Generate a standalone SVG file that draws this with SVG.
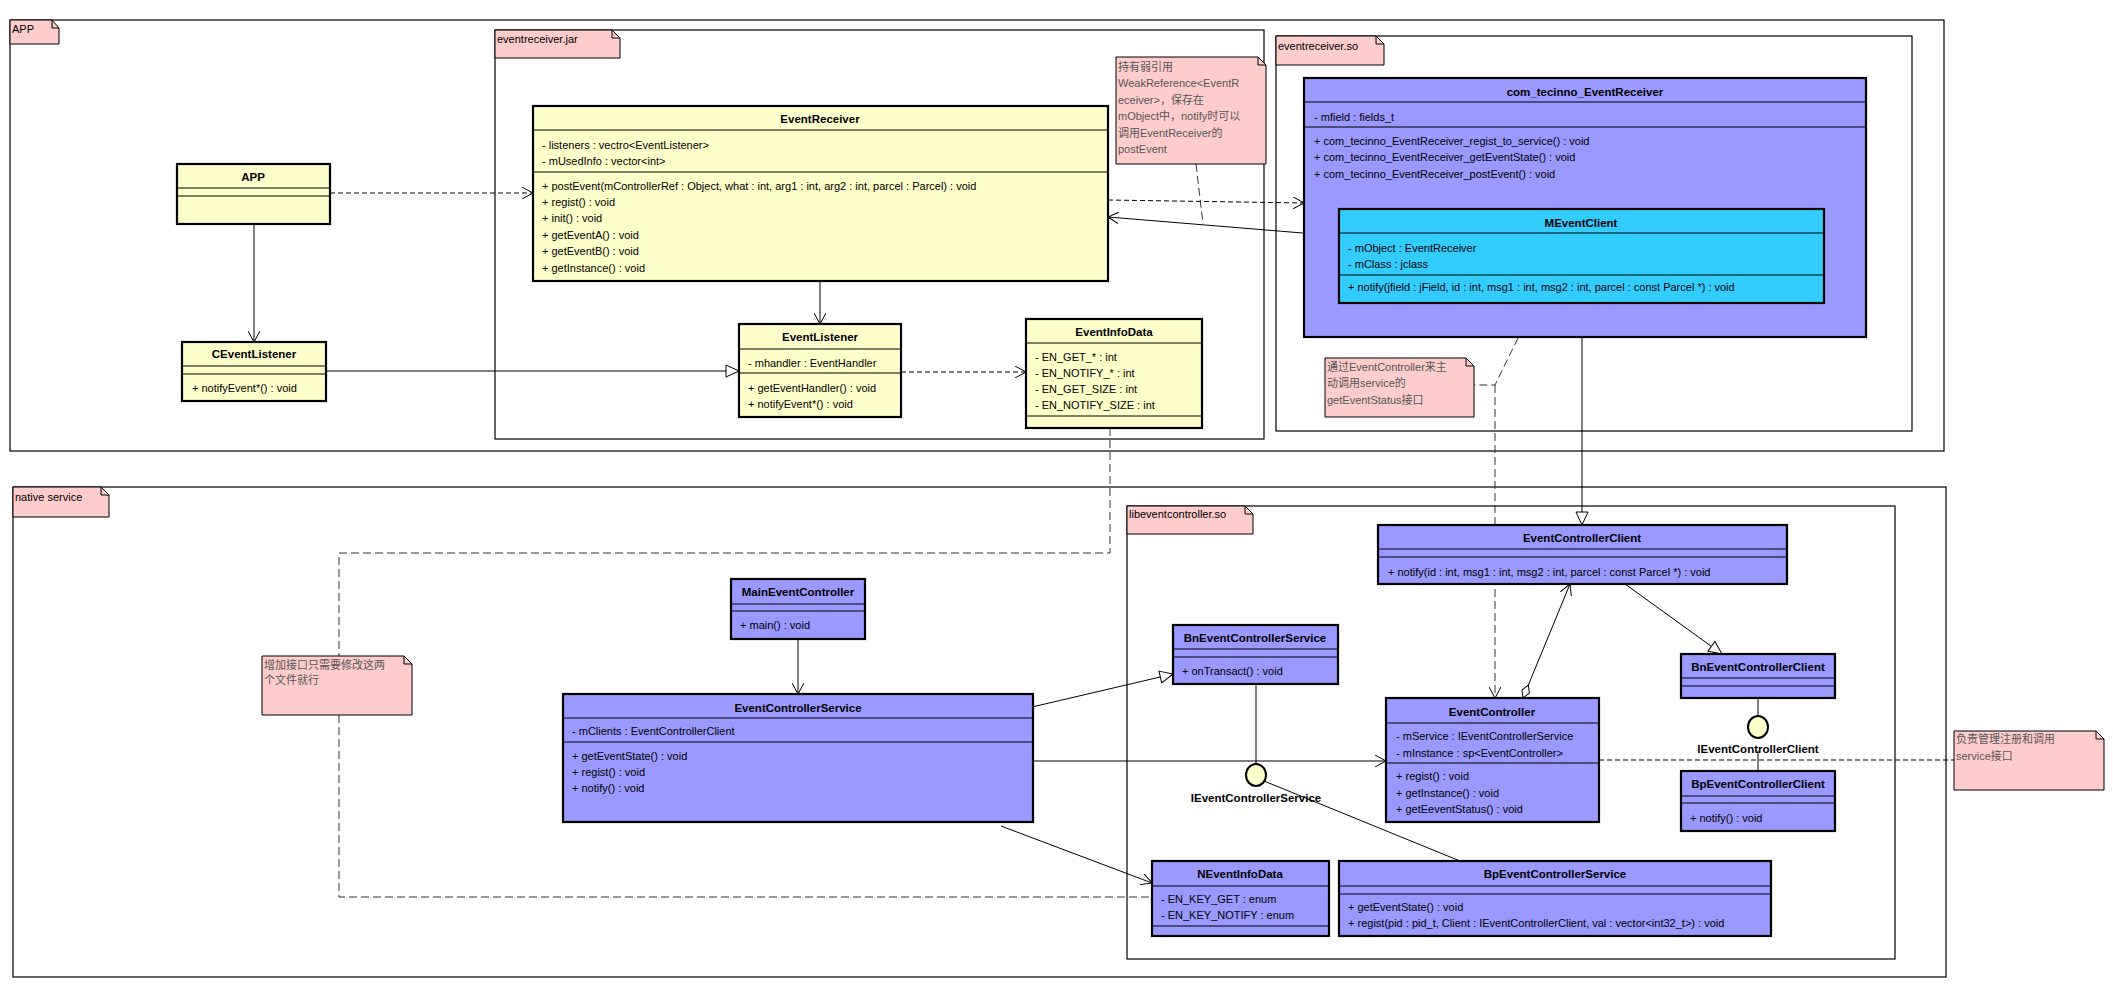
<svg xmlns="http://www.w3.org/2000/svg" width="2113" height="1000" viewBox="0 0 2113 1000">
<style>
text{font-family:"Liberation Sans","Noto Sans CJK SC",sans-serif;font-size:11px;fill:#000}
.h{font-weight:bold;text-anchor:middle;font-size:11.5px}
.c{text-anchor:middle}
.pk{fill:none;stroke:#000;stroke-width:1.2}
.tab{fill:#FFCCCC;stroke:#000;stroke-width:1}
.y{fill:#FFFFCC;stroke:#000;stroke-width:2.2}
.p{fill:#9999FF;stroke:#000;stroke-width:2.2}
.b{fill:#33CCFF;stroke:#000;stroke-width:2.2}
.s{stroke:#000;stroke-width:1.2}
.note{fill:#FFCCCC;stroke:#000;stroke-width:1}
.nt{fill:#555}
.l{fill:none;stroke:#000;stroke-width:1}
.d{fill:none;stroke:#000;stroke-width:1;stroke-dasharray:5,3}
.d2{fill:none;stroke:#333;stroke-width:1;stroke-dasharray:8,4}
.tri{fill:#fff;stroke:#000;stroke-width:1}
</style>
<defs>
<marker id="open" markerWidth="12" markerHeight="12" refX="11" refY="6" orient="auto" markerUnits="userSpaceOnUse"><path d="M0,0 L11,6 L0,12" fill="none" stroke="#000"/></marker>
<marker id="tri" markerWidth="16" markerHeight="14" refX="14" refY="7" orient="auto" markerUnits="userSpaceOnUse"><path d="M1,1 L14,7 L1,13 Z" fill="#fff" stroke="#000"/></marker>
<marker id="dia" markerWidth="18" markerHeight="10" refX="1" refY="5" orient="auto" markerUnits="userSpaceOnUse"><path d="M1,5 L8,1 L15,5 L8,9 Z" fill="#fff" stroke="#000"/></marker>
</defs>

<g id="pkg-app">
<rect class="pk" x="10" y="20" width="1934" height="431"/>
<path class="tab" d="M10,20 H52 L59,28 V44 H10 Z"/><path class="l" d="M52,20 V28 H59"/>
<text x="12" y="33">APP</text>
</g>
<g id="pkg-jar">
<rect class="pk" x="495" y="30" width="769" height="409"/>
<path class="tab" d="M495,30 H612 L620,38 V58 H495 Z"/><path class="l" d="M612,30 V38 H620"/>
<text x="497" y="43">eventreceiver.jar</text>
</g>
<g id="pkg-so">
<rect class="pk" x="1276" y="36" width="636" height="395"/>
<path class="tab" d="M1276,36 H1376 L1384,44 V65 H1276 Z"/><path class="l" d="M1376,36 V44 H1384"/>
<text x="1278" y="50">eventreceiver.so</text>
</g>
<g id="pkg-native">
<rect class="pk" x="13" y="487" width="1933" height="490"/>
<path class="tab" d="M13,487 H101 L109,495 V517 H13 Z"/><path class="l" d="M101,487 V495 H109"/>
<text x="15" y="501">native service</text>
</g>
<g id="pkg-lib">
<rect class="pk" x="1127" y="506" width="768" height="453"/>
<path class="tab" d="M1127,506 H1245 L1253,514 V534 H1127 Z"/><path class="l" d="M1245,506 V514 H1253"/>
<text x="1129" y="518">libeventcontroller.so</text>
</g>

<g id="connectors">
<path class="d" d="M330,193 H533" marker-end="url(#open)"/>
<path class="l" d="M254,224 V342" marker-end="url(#open)"/>
<path class="l" d="M820,281 V324" marker-end="url(#open)"/>
<path class="l" d="M326,371 H739" marker-end="url(#tri)"/>
<path class="d" d="M901,372 H1026" marker-end="url(#open)"/>
<path class="d" d="M1108,200 L1304,203" marker-end="url(#open)"/>
<path class="l" d="M1339,236 L1108,217" marker-end="url(#open)"/>
<path class="d2" d="M1196,164 L1203,224"/>
<path class="d2" d="M1518,338 L1495,385 H1474"/>
<path class="d2" d="M1495,385 V698" marker-end="url(#open)"/>
<path class="l" d="M1582,303 V525" marker-end="url(#tri)"/>
<path class="d2" d="M1110,428 V553 H339 V656 M339,715 V897 H1152"/>
<path class="l" d="M798,639 V694" marker-end="url(#open)"/>
<path class="l" d="M1032,707 L1173,674" marker-end="url(#tri)"/>
<path class="l" d="M1033,761 H1386" marker-end="url(#open)"/>
<path class="l" d="M1001,826 L1152,883" marker-end="url(#open)"/>
<path class="d" d="M1599,760 H1954"/>
<path class="l" d="M1523,698 L1570,584" marker-start="url(#dia)" marker-end="url(#open)"/>
<path class="l" d="M1625,584 L1722,654" marker-end="url(#tri)"/>
<path class="l" d="M1256,684 V765"/>
<path class="l" d="M1264,781 L1460,861"/>
<path class="l" d="M1758,698 V717 M1758,751 V771"/>
</g>

<g id="APP">
<rect class="y" x="177" y="164" width="153" height="60"/>
<line class="s" x1="177" y1="188" x2="330" y2="188"/><line class="s" x1="177" y1="196" x2="330" y2="196"/>
<text class="h" x="253" y="181">APP</text>
</g>
<g id="CEventListener">
<rect class="y" x="182" y="342" width="144" height="59"/>
<line class="s" x1="182" y1="366" x2="326" y2="366"/><line class="s" x1="182" y1="374" x2="326" y2="374"/>
<text class="h" x="254" y="358">CEventListener</text>
<text x="192" y="392">+ notifyEvent*() : void</text>
</g>
<g id="EventReceiver">
<rect class="y" x="533" y="106" width="575" height="175"/>
<line class="s" x1="533" y1="130" x2="1108" y2="130"/><line class="s" x1="533" y1="172" x2="1108" y2="172"/>
<text class="h" x="820" y="123">EventReceiver</text>
<text x="542" y="149">- listeners : vectro&lt;EventListener&gt;</text>
<text x="542" y="165">- mUsedInfo : vector&lt;int&gt;</text>
<text x="542" y="190">+ postEvent(mControllerRef : Object, what : int, arg1 : int, arg2 : int, parcel : Parcel) : void</text>
<text x="542" y="206">+ regist() : void</text>
<text x="542" y="222">+ init() : void</text>
<text x="542" y="239">+ getEventA() : void</text>
<text x="542" y="255">+ getEventB() : void</text>
<text x="542" y="272">+ getInstance() : void</text>
</g>
<g id="EventListener">
<rect class="y" x="739" y="324" width="162" height="93"/>
<line class="s" x1="739" y1="349" x2="901" y2="349"/><line class="s" x1="739" y1="373" x2="901" y2="373"/>
<text class="h" x="820" y="341">EventListener</text>
<text x="748" y="367">- mhandler : EventHandler</text>
<text x="748" y="392">+ getEventHandler() : void</text>
<text x="748" y="408">+ notifyEvent*() : void</text>
</g>
<g id="EventInfoData">
<rect class="y" x="1026" y="319" width="176" height="109"/>
<line class="s" x1="1026" y1="343" x2="1202" y2="343"/><line class="s" x1="1026" y1="416" x2="1202" y2="416"/>
<text class="h" x="1114" y="336">EventInfoData</text>
<text x="1035" y="361">- EN_GET_* : int</text>
<text x="1035" y="377">- EN_NOTIFY_* : int</text>
<text x="1035" y="393">- EN_GET_SIZE : int</text>
<text x="1035" y="409">- EN_NOTIFY_SIZE : int</text>
</g>
<g id="note-weakref">
<path class="note" d="M1116,57 H1258 L1266,65 V164 H1116 Z"/><path class="l" d="M1258,57 V65 H1266"/>
<text class="nt" x="1118" y="71">持有弱引用</text>
<text class="nt" x="1118" y="87">WeakReference&lt;EventR</text>
<text class="nt" x="1118" y="104">eceiver&gt;，保存在</text>
<text class="nt" x="1118" y="120">mObject中，notify时可以</text>
<text class="nt" x="1118" y="137">调用EventReceiver的</text>
<text class="nt" x="1118" y="153">postEvent</text>
</g>
<g id="com_tecinno_EventReceiver">
<rect class="p" x="1304" y="78" width="562" height="259"/>
<line class="s" x1="1304" y1="102" x2="1866" y2="102"/><line class="s" x1="1304" y1="127" x2="1866" y2="127"/>
<text class="h" x="1585" y="96">com_tecinno_EventReceiver</text>
<text x="1314" y="121">- mfield : fields_t</text>
<text x="1314" y="145">+ com_tecinno_EventReceiver_regist_to_service() : void</text>
<text x="1314" y="161">+ com_tecinno_EventReceiver_getEventState() : void</text>
<text x="1314" y="178">+ com_tecinno_EventReceiver_postEvent() : void</text>
</g>
<g id="MEventClient">
<rect class="b" x="1339" y="209" width="485" height="94"/>
<line class="s" x1="1339" y1="233" x2="1824" y2="233"/><line class="s" x1="1339" y1="275" x2="1824" y2="275"/>
<text class="h" x="1581" y="227">MEventClient</text>
<text x="1348" y="252">- mObject : EventReceiver</text>
<text x="1348" y="268">- mClass : jclass</text>
<text x="1348" y="291">+ notify(jfield : jField, id : int, msg1 : int, msg2 : int, parcel : const Parcel *) : void</text>
</g>
<g id="note-controller">
<path class="note" d="M1325,358 H1466 L1474,366 V417 H1325 Z"/><path class="l" d="M1466,358 V366 H1474"/>
<text class="nt" x="1327" y="371">通过EventController来主</text>
<text class="nt" x="1327" y="387">动调用service的</text>
<text class="nt" x="1327" y="404">getEventStatus接口</text>
</g>
<g id="note-files">
<path class="note" d="M262,656 H404 L412,664 V715 H262 Z"/><path class="l" d="M404,656 V664 H412"/>
<text class="nt" x="264" y="669">增加接口只需要修改这两</text>
<text class="nt" x="264" y="684">个文件就行</text>
</g>
<g id="MainEventController">
<rect class="p" x="731" y="579" width="134" height="60"/>
<line class="s" x1="731" y1="604" x2="865" y2="604"/><line class="s" x1="731" y1="611" x2="865" y2="611"/>
<text class="h" x="798" y="596">MainEventController</text>
<text x="740" y="629">+ main() : void</text>
</g>
<g id="EventControllerService">
<rect class="p" x="563" y="694" width="470" height="128"/>
<line class="s" x1="563" y1="718" x2="1033" y2="718"/><line class="s" x1="563" y1="742" x2="1033" y2="742"/>
<text class="h" x="798" y="712">EventControllerService</text>
<text x="572" y="735">- mClients : EventControllerClient</text>
<text x="572" y="760">+ getEventState() : void</text>
<text x="572" y="776">+ regist() : void</text>
<text x="572" y="792">+ notify() : void</text>
</g>
<g id="EventControllerClient">
<rect class="p" x="1378" y="525" width="409" height="59"/>
<line class="s" x1="1378" y1="549" x2="1787" y2="549"/><line class="s" x1="1378" y1="557" x2="1787" y2="557"/>
<text class="h" x="1582" y="542">EventControllerClient</text>
<text x="1388" y="576">+ notify(id : int, msg1 : int, msg2 : int, parcel : const Parcel *) : void</text>
</g>
<g id="BnEventControllerService">
<rect class="p" x="1173" y="625" width="165" height="59"/>
<line class="s" x1="1173" y1="649" x2="1338" y2="649"/><line class="s" x1="1173" y1="657" x2="1338" y2="657"/>
<text class="h" x="1255" y="642">BnEventControllerService</text>
<text x="1182" y="675">+ onTransact() : void</text>
</g>
<g id="IEventControllerService">
<ellipse cx="1256" cy="775" rx="10" ry="11" fill="#FFFFCC" stroke="#000" stroke-width="2"/>
<text class="h" x="1256" y="802">IEventControllerService</text>
</g>
<g id="EventController">
<rect class="p" x="1386" y="698" width="213" height="124"/>
<line class="s" x1="1386" y1="723" x2="1599" y2="723"/><line class="s" x1="1386" y1="763" x2="1599" y2="763"/>
<text class="h" x="1492" y="716">EventController</text>
<text x="1396" y="740">- mService : IEventControllerService</text>
<text x="1396" y="757">- mInstance : sp&lt;EventController&gt;</text>
<text x="1396" y="780">+ regist() : void</text>
<text x="1396" y="797">+ getInstance() : void</text>
<text x="1396" y="813">+ getEeventStatus() : void</text>
</g>
<g id="BnEventControllerClient">
<rect class="p" x="1681" y="654" width="154" height="44"/>
<line class="s" x1="1681" y1="678" x2="1835" y2="678"/><line class="s" x1="1681" y1="686" x2="1835" y2="686"/>
<text class="h" x="1758" y="671">BnEventControllerClient</text>
</g>
<g id="IEventControllerClient">
<ellipse cx="1758" cy="727" rx="10" ry="11" fill="#FFFFCC" stroke="#000" stroke-width="2"/>
<text class="h" x="1758" y="753">IEventControllerClient</text>
</g>
<g id="BpEventControllerClient">
<rect class="p" x="1681" y="771" width="154" height="60"/>
<line class="s" x1="1681" y1="796" x2="1835" y2="796"/><line class="s" x1="1681" y1="803" x2="1835" y2="803"/>
<text class="h" x="1758" y="788">BpEventControllerClient</text>
<text x="1690" y="822">+ notify() : void</text>
</g>
<g id="note-manage">
<path class="note" d="M1954,731 H2096 L2104,739 V790 H1954 Z"/><path class="l" d="M2096,731 V739 H2104"/>
<text class="nt" x="1956" y="743">负责管理注册和调用</text>
<text class="nt" x="1956" y="760">service接口</text>
</g>
<g id="NEventInfoData">
<rect class="p" x="1152" y="861" width="177" height="75"/>
<line class="s" x1="1152" y1="886" x2="1329" y2="886"/><line class="s" x1="1152" y1="926" x2="1329" y2="926"/>
<text class="h" x="1240" y="878">NEventInfoData</text>
<text x="1161" y="903">- EN_KEY_GET : enum</text>
<text x="1161" y="919">- EN_KEY_NOTIFY : enum</text>
</g>
<g id="BpEventControllerService">
<rect class="p" x="1339" y="861" width="432" height="75"/>
<line class="s" x1="1339" y1="886" x2="1771" y2="886"/><line class="s" x1="1339" y1="894" x2="1771" y2="894"/>
<text class="h" x="1555" y="878">BpEventControllerService</text>
<text x="1348" y="911">+ getEventState() : void</text>
<text x="1348" y="927">+ regist(pid : pid_t, Client : IEventControllerClient, val : vector&lt;int32_t&gt;) : void</text>
</g>
</svg>
